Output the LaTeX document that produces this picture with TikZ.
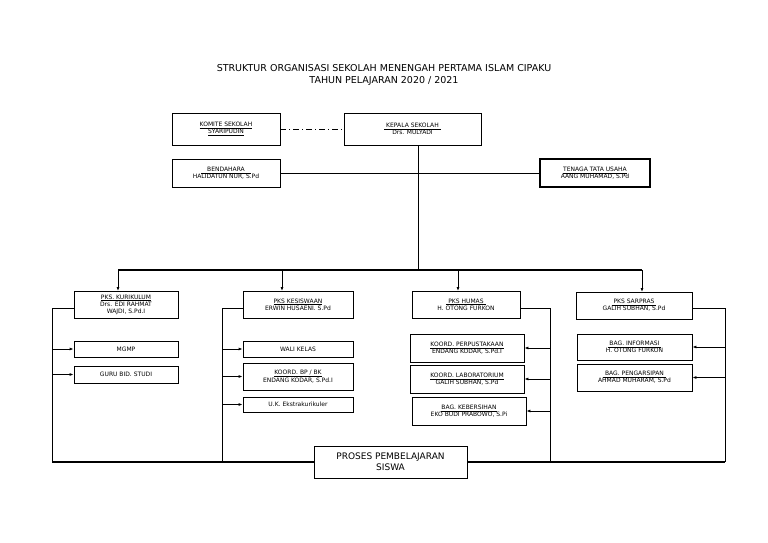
\documentclass[tikz,border=0pt]{standalone}
\usepackage{fontspec}
\setmainfont{DejaVu Sans}
\usetikzlibrary{arrows.meta}
\begin{document}
\begin{tikzpicture}[x=1pt,y=-1pt,
    box/.style={draw, line width=0.8pt, inner sep=0pt, align=center, font=\fontsize{6}{7}\selectfont},
    ln/.style={line width=0.8pt},
    bus/.style={line width=1.4pt},
    arr/.style={line width=0.8pt, -{Latex[length=4pt,width=3pt]}}]
    \useasboundingbox (0,0) rectangle (768,543);
    % title
    \node[font=\fontsize{9.5}{12}\selectfont, align=center] (title) at (384,75)
        {STRUKTUR ORGANISASI SEKOLAH MENENGAH PERTAMA ISLAM CIPAKU\\TAHUN PELAJARAN 2020 / 2021};
    % top level
    \node[box, minimum width=108, minimum height=32] (komite) at (226,129) {\underline{KOMITE SEKOLAH}\\\underline{SYARIPUDIN}};
    \node[box, minimum width=137, minimum height=32] (kepala) at (412.5,129) {\underline{\ KEPALA SEKOLAH\ }\\Drs. MULYADI};
    \node[box, minimum width=108, minimum height=28] (bendahara) at (226,173) {\underline{\quad BENDAHARA\quad}\\HALIDATUN NUR, S.Pd};
    \node[box, line width=1.4pt, minimum width=110, minimum height=28] (tu) at (595,173) {\underline{TENAGA TATA USAHA}\\AANG MUHAMAD, S.Pd};
    \draw[ln, dash pattern=on 6pt off 3pt on 1pt off 3pt] (komite) -- (kepala);
    \coordinate (top) at (418,145);
    \coordinate (split) at (418,270);
    \draw[ln] (top) -- (split);
    \draw[ln] (bendahara) -- (tu);
    % PKS
    \node[box, minimum width=104, minimum height=27] (kur) at (126,304.5) {\underline{PKS. KURIKULUM}\\Drs. EDI RAHMAT\\WAJDI, S.Pd.I};
    \node[box, minimum width=110, minimum height=27] (kes) at (298,304.5) {\underline{PKS KESISWAAN}\\ERWIN HUSAENI. S.Pd};
    \node[box, minimum width=108, minimum height=27] (hum) at (466,304.5) {\underline{\ PKS HUMAS\ }\\H. OTONG FURKON};
    \node[box, minimum width=116, minimum height=27] (sar) at (634,305.5) {\underline{\ PKS SARPRAS\ }\\GALIH SUBHAN, S.Pd};
    \draw[bus] (118,270) -- (642,270);
    \draw[arr] (118,270) -- (118,291);
    \draw[arr] (282,270) -- (282,291);
    \draw[arr] (458,270) -- (458,291);
    \draw[arr] (642,270) -- (642,292);
    % sub units
    \node[box, minimum width=104, minimum height=16] (mgmp) at (126,349) {MGMP};
    \node[box, minimum width=104, minimum height=17] (guru) at (126,374.5) {GURU BID. STUDI};
    \node[box, minimum width=110, minimum height=16] (wali) at (298,349) {WALI KELAS};
    \node[box, minimum width=110, minimum height=27] (bp) at (298,376.5) {\underline{KOORD. BP / BK}\\ENDANG KODAR, S.Pd.I};
    \node[box, minimum width=110, minimum height=15] (uk) at (298,404.5) {U.K. Ekstrakurikuler};
    \node[box, minimum width=114, minimum height=28] (perp) at (467,348) {\underline{KOORD. PERPUSTAKAAN}\\ENDANG KODAR, S.Pd.I};
    \node[box, minimum width=114, minimum height=28] (lab) at (467,379) {\underline{KOORD. LABORATORIUM}\\GALIH SUBHAN, S.Pd};
    \node[box, minimum width=114, minimum height=28] (keb) at (469,411) {\underline{BAG. KEBERSIHAN}\\EKO BUDI PRABOWO, S.Pi};
    \node[box, minimum width=115, minimum height=26] (info) at (634.5,347) {\underline{\ BAG. INFORMASI\ }\\H. OTONG FURKON};
    \node[box, minimum width=115, minimum height=27] (arsip) at (634.5,377.5) {\underline{\ BAG. PENGARSIPAN\ }\\AHMAD MUHARAM, S.Pd};
    % proses
    \node[box, fill=white, minimum width=153, minimum height=32, font=\fontsize{9}{11}\selectfont] (proses) at (390.5,462) {PROSES PEMBELAJARAN\\SISWA};
    % side lines
    \coordinate (kl) at (52,308);
    \coordinate (kb) at (52,462);
    \coordinate (sl) at (222,308);
    \coordinate (sb) at (222,462);
    \coordinate (hl) at (550,308);
    \coordinate (hb) at (550,462);
    \coordinate (rl) at (725,308);
    \coordinate (rb) at (725,462);
    \draw[ln] (kur.west |- kl) -- (kl) -- (kb);
    \draw[ln] (kes.west |- sl) -- (sl) -- (sb);
    \draw[ln] (hum.east |- hl) -- (hl) -- (hb);
    \draw[ln] (sar.east |- rl) -- (rl) -- (rb);
    \draw[bus] (kb) -- (proses.west);
    \draw[bus] (proses.east) -- (rb);
    \draw[arr] (kl |- mgmp) -- (mgmp);
    \draw[arr] (kl |- guru) -- (guru);
    \draw[arr] (sl |- wali) -- (wali);
    \draw[arr] (sl |- bp) -- (bp);
    \draw[arr] (sl |- uk) -- (uk);
    \draw[arr] (hl |- perp) -- (perp);
    \draw[arr] (hl |- lab) -- (lab);
    \draw[arr] (hl |- keb) -- (keb);
    \draw[arr] (rl |- info) -- (info);
    \draw[arr] (rl |- arsip) -- (arsip);
\end{tikzpicture}
\end{document}
